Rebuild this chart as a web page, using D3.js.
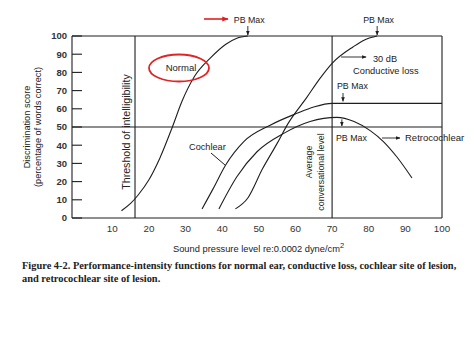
<!DOCTYPE html>
<html><head><meta charset="utf-8">
<script src="https://cdn.jsdelivr.net/npm/d3@7"></script>
<style>body{margin:0;background:#fff}svg{display:block}</style>
</head><body>
<svg id="c" width="474" height="352"></svg>
<script>
// ---- data (dB SPL, % correct) ----
const xTicks = [10,20,30,40,50,60,70,80,90,100];
const yTicks = [0,10,20,30,40,50,60,70,80,90,100];
const normal = [[12.5,4],[15,8],[17,12.5],[20,21],[23,33],[26.4,50],[29,64],[32.5,78],[36.8,88],[41,95.5],[44,98.8],[47,100]];
const conductive = [[43.6,5],[47,11],[51,27],[55,41],[58,52],[63,66],[66.8,77],[70,85],[75.7,94],[79,98],[82.3,100]];
const cochlear = [[34.5,5],[37.5,16],[40.9,29],[45.9,42],[53.1,51],[60.4,57.5],[65,61],[70,63],[100,63]];
const retrocochlear = [[39.1,5],[44,22.7],[49.5,36.4],[56.8,46.5],[64,53],[71.3,55.3],[76,53],[80.4,48],[84,42],[87.7,33.5],[91.8,22]];
const thresholdLevel = 16.2;
const conversationalLevel = 70;
const refLines = [50, 100];

const svg = d3.select("#c");
const x = d3.scaleLinear().domain([-1,100]).range([72,442]);
const y = d3.scaleLinear().domain([0,100]).range([218,36]);
const ink = "#1e1e1e";
const sans = "Liberation Sans, Arial, sans-serif";

// frame / reference lines
const g = svg.append("g").attr("stroke", ink).attr("stroke-width", 1.1).attr("fill","none");
g.append("line").attr("x1",x.range()[0]).attr("x2",x.range()[1]).attr("y1",y(0)).attr("y2",y(0));
g.append("line").attr("x1",x.range()[0]).attr("x2",x.range()[0]).attr("y1",y(0)).attr("y2",y(100));
g.append("line").attr("x1",x(100)).attr("x2",x(100)).attr("y1",y(0)).attr("y2",y(100));
refLines.forEach(v => g.append("line").attr("x1",x.range()[0]).attr("x2",x(100)).attr("y1",y(v)).attr("y2",y(v)));
[thresholdLevel, conversationalLevel].forEach(v => g.append("line").attr("x1",x(v)).attr("x2",x(v)).attr("y1",y(0)).attr("y2",y(100)));

// y ticks (inward)
yTicks.forEach(v => {
  g.append("line").attr("x1",x.range()[0]).attr("x2",x.range()[0]+10).attr("y1",y(v)).attr("y2",y(v));
  svg.append("text").attr("x",x.range()[0]-5).attr("y",y(v)).attr("dy","0.35em")
    .attr("text-anchor","end").attr("font-family",sans).attr("font-size",9.5).attr("font-weight","bold").attr("fill","#333").text(v);
});
xTicks.forEach(v => {
  svg.append("text").attr("x",x(v)).attr("y",y(0)+14).attr("text-anchor","middle")
    .attr("font-family",sans).attr("font-size",9.8).attr("fill","#333").text(v);
});

// curves
const line = d3.line().x(d=>x(d[0])).y(d=>y(d[1])).curve(d3.curveMonotoneX);
[normal, conductive, cochlear, retrocochlear].forEach(s =>
  svg.append("path").datum(s).attr("d",line).attr("fill","none").attr("stroke",ink).attr("stroke-width",1.1));

// arrow marker
const defs = svg.append("defs");
defs.append("marker").attr("id","ah").attr("viewBox","0 0 10 10").attr("refX",9).attr("refY",5)
  .attr("markerWidth",5).attr("markerHeight",5).attr("orient","auto")
  .append("path").attr("d","M0,1L10,5L0,9z").attr("fill",ink);
defs.append("marker").attr("id","ahr").attr("viewBox","0 0 10 10").attr("refX",9).attr("refY",5)
  .attr("markerWidth",4).attr("markerHeight",4).attr("orient","auto")
  .append("path").attr("d","M0,1L10,5L0,9z").attr("fill","#e02020");

function txt(t, px, py, opts={}) {
  return svg.append("text").attr("x",px).attr("y",py).attr("font-family",sans)
    .attr("font-size",opts.size||8.8).attr("fill",opts.fill||"#222")
    .attr("text-anchor",opts.anchor||"start").attr("dy","0.35em").text(t);
}
function arrow(x1,y1,x2,y2){
  svg.append("line").attr("x1",x1).attr("y1",y1).attr("x2",x2).attr("y2",y2)
    .attr("stroke",ink).attr("stroke-width",0.9).attr("marker-end","url(#ah)");
}

// PB Max labels at top
svg.append("line").attr("x1",204).attr("x2",228).attr("y1",19).attr("y2",19)
  .attr("stroke","#e02020").attr("stroke-width",1.6).attr("marker-end","url(#ahr)");
txt("PB Max", x(47)-14, 20);
arrow(x(47), 26, x(47), y(100)-1);
txt("PB Max", x(82.3)-14, 20);
arrow(x(82.3), 26, x(82.3), y(100)-1);

// Conductive
arrow(x(70)+9, 57, x(70)+34, 57);
txt("30 dB", 373, 59, {size:9.2});
txt("Conductive loss", 353, 71, {size:9.3});
// Cochlear PB
txt("PB Max", 337, 86);
arrow(343, 93, 343, y(63)-2);
// retro PB
arrow(x(71.3)+5, y(55.3)+2, x(71.3)+5, y(50)-1);
txt("PB Max", 336, 138);
arrow(382, 138, 400, 138);
txt("Retrocochlear", 405, 138, {size:9.5});

// Cochlear
txt("Cochlear", 189, 147, {size:9.2});
svg.append("line").attr("x1",211).attr("y1",153).attr("x2",225).attr("y2",165).attr("stroke",ink).attr("stroke-width",1);

// Normal with red ellipse
txt("Normal", 181, 68, {anchor:"middle", size:9.5});
svg.append("ellipse").attr("cx",179).attr("cy",68).attr("rx",30).attr("ry",13.5)
  .attr("fill","none").attr("stroke","#e02525").attr("stroke-width",1.8);

// rotated labels
function rtxt(t, px, py, size){
  svg.append("text").attr("transform",`translate(${px},${py}) rotate(-90)`).attr("text-anchor","middle")
    .attr("dy","0.35em").attr("font-family",sans).attr("font-size",size||8.5).attr("fill","#222").text(t);
}
rtxt("Threshold of intelligibility", 126.5, 132, 10.6);
rtxt("Average", 309, 162, 8.8);
rtxt("conversational level", 321, 172, 8.8);
rtxt("Discrimination score", 27, 127, 9.2);
rtxt("(percentage of words correct)", 38, 127, 9.2);

// x axis title
const xt = svg.append("text").attr("x",173).attr("y",252).attr("font-family",sans).attr("font-size",9.3).attr("fill","#222");
xt.append("tspan").text("Sound pressure level re:0.0002 dyne/cm");
xt.append("tspan").attr("dy",-4).attr("font-size",7.5).text("2");

// caption
const serif = "Liberation Serif, Times New Roman, serif";
svg.append("text").attr("x",22).attr("y",269).attr("font-family",serif).attr("font-weight","bold").attr("font-size",10.4).attr("fill","#222")
  .text("Figure 4-2.  Performance-intensity functions for normal ear, conductive loss, cochlear site of lesion,");
svg.append("text").attr("x",22).attr("y",282).attr("font-family",serif).attr("font-weight","bold").attr("font-size",10.4).attr("fill","#222")
  .text("and retrocochlear site of lesion.");
</script>
</body></html>
